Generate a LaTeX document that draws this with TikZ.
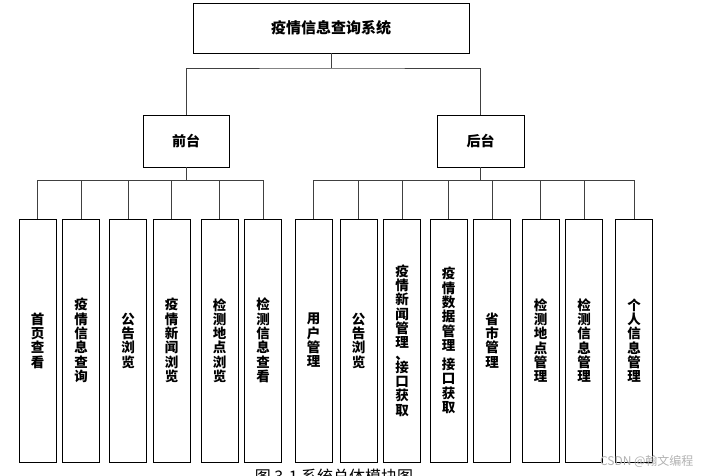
\documentclass[tikz,border=0pt]{standalone}
\usepackage{fontspec}
\setmainfont{Noto Sans CJK SC}
\newfontfamily\cjk{Noto Sans CJK SC}
\begin{document}
\begin{tikzpicture}[x=1pt,y=-1pt,
  box/.style={draw=black, line width=0.8pt, fill=white, inner sep=0pt},
  leaf/.style={box, minimum width=37pt, minimum height=243pt, align=center,
    font=\cjk\bfseries\fontsize{13.5}{14.3}\selectfont},
  conn/.style={draw=black!75, line width=0.9pt}]
\useasboundingbox (0,0) rectangle (708,475);
% top
\node[box, minimum width=276pt, minimum height=50pt, font=\cjk\bfseries\fontsize{15}{18}\selectfont] (sys) at (331,28) {疫情信息查询系统};
\node[box, minimum width=86pt, minimum height=52pt, font=\cjk\bfseries\fontsize{14}{16}\selectfont] (qt) at (186,141) {前台};
\node[box, minimum width=87pt, minimum height=52pt, font=\cjk\bfseries\fontsize{14}{16}\selectfont] (ht) at (480.5,141) {后台};
\coordinate (j0) at (331,68);
\coordinate (qb) at (186,180);
\coordinate (hb) at (480.5,180);
\draw[conn] (sys.south) -- (j0);
\draw[conn] (qt.north) |- (j0) -| (ht.north);
\draw[conn] (qt.south) -- (qb);
\draw[conn] (ht.south) -- (hb);
% front leaves
\node[leaf] (l1) at (37.5,340.5) {首\\页\\查\\看};
\node[leaf] (l2) at (81,340.5) {疫\\情\\信\\息\\查\\询};
\node[leaf] (l3) at (128,340.5) {公\\告\\浏\\览};
\node[leaf] (l4) at (171.5,340.5) {疫\\情\\新\\闻\\浏\\览};
\node[leaf] (l5) at (219.5,340.5) {检\\测\\地\\点\\浏\\览};
\node[leaf] (l6) at (263,340.5) {检\\测\\信\\息\\查\\看};
% back leaves
\node[leaf] (r1) at (313.5,340.5) {用\\户\\管\\理};
\node[leaf] (r2) at (358.5,340.5) {公\\告\\浏\\览};
\node[leaf] (r3) at (402,340.5) {疫\\情\\新\\闻\\管\\理\\[-2pt]、\\[-2pt]接\\口\\获\\取};
\node[leaf] (r4) at (448.5,340.5) {疫\\情\\数\\据\\管\\理\\[5pt]接\\口\\获\\取};
\node[leaf] (r5) at (492,340.5) {省\\市\\管\\理};
\node[leaf] (r6) at (540.5,340.5) {检\\测\\地\\点\\管\\理};
\node[leaf] (r7) at (584,340.5) {检\\测\\信\\息\\管\\理};
\node[leaf] (r8) at (634,340.5) {个\\人\\信\\息\\管\\理};
\foreach \n in {l1,l2,l3,l4,l5,l6} \draw[conn] (qb) -| (\n.north);
\foreach \n in {r1,r2,r3,r4,r5,r6,r7,r8} \draw[conn] (hb) -| (\n.north);
% caption (cut off) and watermark
\node[font=\cjk\fontsize{16}{16}\selectfont, anchor=base] (cap) at (334,482) {图 3-1 系统总体模块图};
\node[font=\cjk\fontsize{12}{12}\selectfont, text=black!30, anchor=east] (wm) at (697,461) {CSDN @翰文编程};
\end{tikzpicture}
\end{document}
